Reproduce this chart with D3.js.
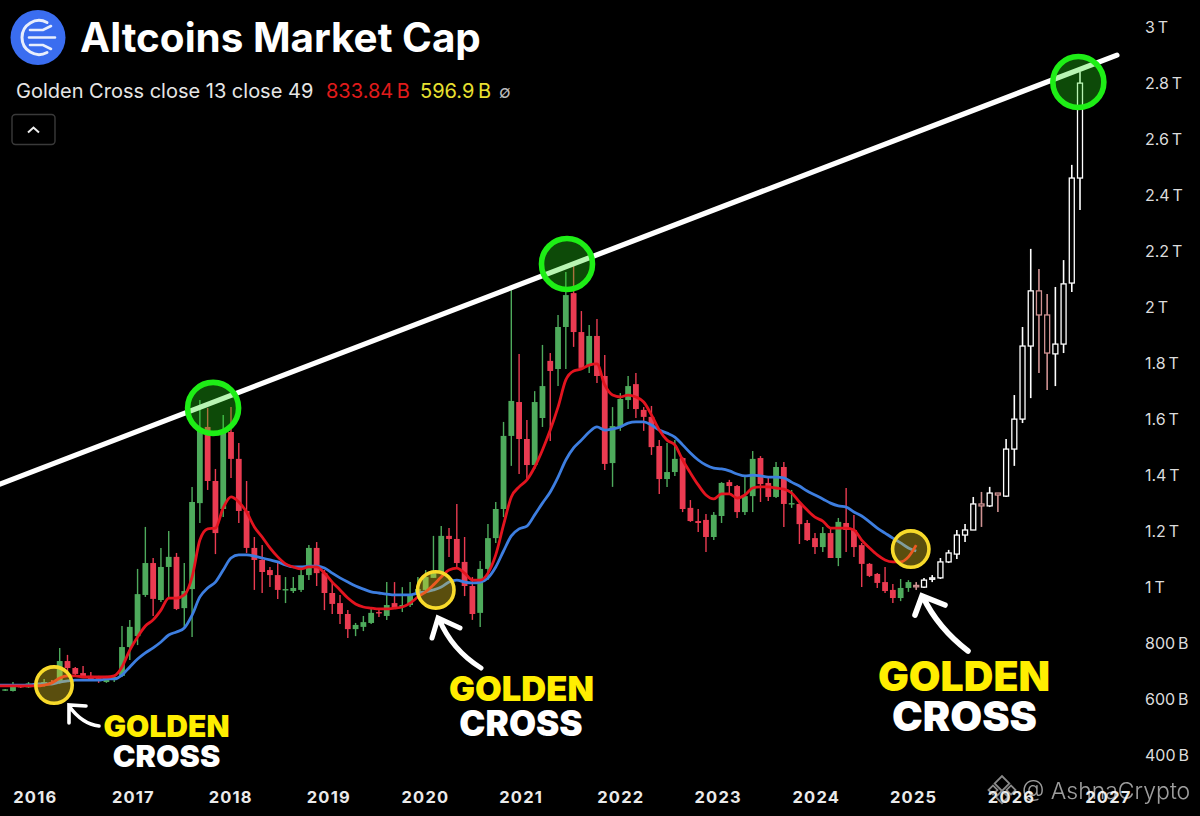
<!DOCTYPE html>
<html><head><meta charset="utf-8">
<script src="https://cdn.jsdelivr.net/npm/d3@7/dist/d3.min.js"></script>
<style>
html,body{margin:0;padding:0;background:#000;overflow:hidden}
svg{display:block}
text{font-family:Inter,"Open Sans",sans-serif}
</style></head><body>
<svg id="c" width="1200" height="816"></svg>
<script>
// Values in billions of USD, one candle per period
const candleOpen=[628,625,643,638,646,643,657,654,732,707,
689,679,671,657,664,679,782,821,968,1082,
950,1068,1104,921,989,1296,1568,1375,1275,1550,
1454,1268,1136,1093,1057,1039,986,982,986,1039,
1136,1046,975,939,900,846,854,868,907,893,
939,925,932,968,986,1029,1050,1179,1168,1086,
1000,904,1061,1171,1275,1536,1657,1525,1432,1600,
1804,1775,1925,2046,1907,1786,1893,1750,1439,1568,
1664,1721,1629,1604,1500,1382,1407,1457,1279,1232,
1236,1175,1250,1371,1357,1264,1321,1457,1368,1318,
1425,1293,1293,1225,1171,1139,1189,1100,1225,1200,
1146,1079,1043,1014,986,957,993,1002,996,1025,
1029,1086,1114,1182,1200,1293,1286,1332,1321,1489,
1596,1857,2054,1968,1829,1864,2082,2457];
const candleHigh=[632,657,646,657,648,668,664,779,754,711,
714,693,679,679,682,857,879,1061,1211,1100,
1136,1196,1118,1082,1354,1664,1636,1418,1611,1639,
1511,1375,1175,1146,1068,1082,1032,1032,1057,1146,
1157,1057,1011,968,914,868,893,921,921,1014,
1014,996,1014,1032,1057,1179,1214,1207,1293,1175,
1032,1089,1221,1300,1586,2057,1829,1593,1696,1861,
1832,1968,2121,2157,1982,1932,1954,1825,1639,1689,
1750,1761,1639,1643,1521,1511,1521,1461,1307,1275,
1257,1264,1371,1379,1361,1389,1482,1464,1389,1443,
1443,1343,1300,1236,1189,1211,1207,1243,1350,1254,
1154,1082,1046,1068,1007,1025,1021,1014,1029,1039,
1100,1129,1200,1221,1318,1336,1354,1332,1525,1682,
1925,2204,2132,2043,2068,2164,2504,2836];
const candleLow=[625,623,636,636,639,641,647,652,689,675,
671,664,654,654,657,675,736,789,961,893,
943,961,914,850,818,1225,1343,1114,1246,1386,
1225,1118,986,975,996,954,939,975,979,1021,
1000,914,900,864,814,821,839,864,889,879,
921,907,925,961,975,1029,1046,1104,1068,964,
879,854,1021,1154,1246,1429,1400,1379,1418,1568,
1518,1714,1775,1854,1779,1761,1725,1414,1354,1554,
1632,1600,1554,1468,1329,1354,1393,1264,1229,1193,
1121,1164,1225,1332,1243,1254,1264,1300,1304,1314,
1211,1279,1150,1161,1114,1121,1100,1071,1121,1104,
996,1032,993,975,939,946,979,986,993,1014,
1025,1082,1096,1157,1200,1211,1282,1264,1318,1429,
1582,1671,1761,1700,1714,1832,2050,2343];
const candleClose=[631,643,638,652,641,657,650,732,707,686,
675,668,661,671,675,782,854,971,1082,954,
1068,1104,918,982,1300,1557,1375,1189,1550,1454,
1268,1136,1093,1050,1039,986,989,993,1039,1136,
1046,975,936,900,846,861,871,904,904,932,
925,932,971,989,1032,1046,1179,1168,1082,1000,
900,1061,1171,1275,1536,1661,1525,1432,1657,1714,
1768,1925,2039,1907,1779,1893,1750,1436,1571,1668,
1714,1632,1604,1496,1382,1407,1454,1275,1232,1225,
1175,1254,1368,1357,1264,1321,1454,1364,1318,1425,
1293,1296,1221,1164,1139,1189,1100,1229,1200,1139,
1079,1036,1011,982,957,993,1014,998,1021,1029,
1086,1118,1182,1200,1293,1286,1332,1325,1489,1596,
1857,2054,1968,1832,1864,2079,2457,2796];
const projectionStart=117;
const ma13=[643,643,643,643,643,646,654,671,679,679,
675,675,675,675,679,711,771,818,857,879,
914,957,957,968,1032,1164,1204,1207,1279,1318,
1300,1264,1211,1175,1136,1104,1079,1068,1061,1068,
1068,1046,1014,986,957,936,925,921,918,918,
921,925,939,961,979,1004,1032,1057,1064,1046,
1021,1021,1046,1111,1218,1318,1354,1379,1425,1486,
1557,1639,1736,1768,1775,1789,1793,1718,1682,1675,
1682,1675,1657,1611,1557,1521,1504,1450,1404,1361,
1325,1311,1329,1329,1314,1325,1350,1354,1354,1350,
1346,1332,1300,1271,1246,1232,1207,1207,1207,1200,
1164,1136,1111,1093,1086,1086,1104,1146];
const ma49=[646,646,646,646,650,650,650,657,661,664,
664,664,664,668,668,682,711,739,761,779,
800,825,836,850,896,961,993,1014,1057,1100,
1111,1111,1107,1100,1093,1086,1075,1068,1068,1071,
1071,1064,1046,1029,1014,1000,989,979,975,971,
968,968,968,975,979,986,996,1014,1021,1014,
1011,1014,1029,1068,1125,1179,1204,1214,1254,1296,
1336,1389,1450,1493,1521,1550,1568,1557,1561,1568,
1582,1586,1586,1575,1557,1546,1532,1504,1475,1450,
1432,1421,1418,1411,1400,1393,1396,1393,1389,1389,
1386,1371,1357,1339,1325,1311,1296,1286,1282,1264,
1250,1229,1207,1189,1171,1154,1136,1125];
const yTickValues=[400,600,800,1000,1200,1400,1600,1800,2000,2200,2400,2600,2800,3000];
const yTickLabels=["400\u2009B","600\u2009B","800\u2009B","1\u2009T","1.2\u2009T","1.4\u2009T","1.6\u2009T","1.8\u2009T","2\u2009T","2.2\u2009T","2.4\u2009T","2.6\u2009T","2.8\u2009T","3\u2009T"];
const xTickIndex=[3.8,16.4,28.9,41.5,53.9,66.2,79,91.5,104.1,116.6,128.6,140.4];
const xTickLabels=["2016","2017","2018","2019","2020","2021","2022","2023","2024","2025","2026","2027"];
const trendIndex=[-0.67,141.5], trendValue=[1364,2896];
const peakIndex=[26.7,72.15,136.8], peakValue=[1636,2150,2800];
const crossIndex=[6.27,55.3,116.3], crossValue=[646,986,1132];

const svg=d3.select("#c");
const x=d3.scaleLinear().domain([0,118,137]).range([5.2,924,1080]);
const y=d3.scaleLinear().domain([1000,3000]).range([586,26]);
const idx=d3.range(candleOpen.length);
const GREEN="#4eaa5c",RED="#ea3b51",PINK="#cf9292";
const chart=svg.append("g").style("filter","blur(0.35px)");
const isUp=i=>candleClose[i]>=candleOpen[i];
const col=i=>i>=projectionStart?(isUp(i)?"#ffffff":PINK):(isUp(i)?GREEN:RED);

chart.append("g").selectAll("line").data(idx).join("line")
 .attr("x1",x).attr("x2",x).attr("y1",i=>y(candleHigh[i])).attr("y2",i=>y(candleLow[i]))
 .attr("stroke",col).attr("stroke-width",i=>i>=projectionStart?1.6:1.4);
chart.append("g").selectAll("rect").data(idx).join("rect")
 .attr("x",i=>x(i)-(i>=projectionStart?2.5:2.9))
 .attr("width",i=>i>=projectionStart?5:5.8)
 .attr("y",i=>y(Math.max(candleOpen[i],candleClose[i])))
 .attr("height",i=>Math.max(1.4,Math.abs(y(candleOpen[i])-y(candleClose[i]))))
 .attr("fill",i=>i>=projectionStart?"#000":col(i))
 .attr("stroke",i=>i>=projectionStart?col(i):"none").attr("stroke-width",1.3);

const line=d3.line().x(d=>x(d[0])).y(d=>y(d[1])).curve(d3.curveMonotoneX);
const withLead=a=>[[-0.67,a[0]]].concat(a.map((v,i)=>[i,v]));
chart.append("path").datum(withLead(ma49)).attr("d",line).attr("fill","none").attr("stroke","#3d7ee0").attr("stroke-width",2.8);
chart.append("path").datum(withLead(ma13)).attr("d",line).attr("fill","none").attr("stroke","#e3141f").attr("stroke-width",2.8);

chart.append("line").attr("x1",x(trendIndex[0])).attr("x2",x(trendIndex[1]))
 .attr("y1",y(trendValue[0])).attr("y2",y(trendValue[1]))
 .attr("stroke","#fff").attr("stroke-width",5.2).attr("stroke-linecap","round");

chart.append("g").selectAll("circle").data(peakIndex).join("circle")
 .attr("cx",d=>x(d)).attr("cy",(d,i)=>y(peakValue[i])).attr("r",25.5)
 .attr("fill","rgba(40,224,25,.33)").attr("stroke","#1eee16").attr("stroke-width",5.6);
chart.append("g").selectAll("circle").data(crossIndex).join("circle")
 .attr("cx",d=>x(d)).attr("cy",(d,i)=>y(crossValue[i])).attr("r",18.2)
 .attr("fill","rgba(250,215,40,.36)").attr("stroke","#f8da2a").attr("stroke-width",3.6);

// hand-drawn arrows
const arrows=[
 {d:"M99,726 Q82,724 69,706 M86,706 L69,705 L69,723",w:3.6},
 {d:"M481,668 Q452,650 439,619 M460,628 L438,618 L432,638",w:5},
 {d:"M968,651 Q938,628 923,597 M945,605 L922,596 L915,615",w:5.6}];
chart.append("g").selectAll("path").data(arrows).join("path").attr("d",d=>d.d)
 .attr("fill","none").attr("stroke","#fff").attr("stroke-width",d=>d.w)
 .attr("stroke-linecap","round").attr("stroke-linejoin","miter");

// callout words
const callouts=[
 {t:"GOLDEN",cx:166.5,b:737,s:30,f:"#ffee00"},{t:"CROSS",cx:166.5,b:767,s:30.5,f:"#fff"},
 {t:"GOLDEN",cx:521.5,b:701,s:34.5,f:"#ffee00"},{t:"CROSS",cx:521,b:736,s:35,f:"#fff"},
 {t:"GOLDEN",cx:964,b:691,s:41,f:"#ffee00"},{t:"CROSS",cx:964.5,b:731,s:41.2,f:"#fff"}];
svg.append("g").selectAll("text").data(callouts).join("text").text(d=>d.t)
 .attr("x",d=>d.cx).attr("y",d=>d.b).attr("text-anchor","middle")
 .attr("font-size",d=>d.s).attr("font-weight",900).attr("fill",d=>d.f);

// axes
const ya=d3.axisRight(y).tickValues(yTickValues).tickFormat((d,i)=>yTickLabels[i]).tickSize(0).tickPadding(0);
const yg=svg.append("g").attr("transform","translate(1145,1.5)").call(ya);
yg.select(".domain").remove();
yg.selectAll("text").attr("font-size",16).attr("fill","#dcdcdc").attr("font-family","Inter,sans-serif");
const xa=d3.axisBottom(x).tickValues(xTickIndex).tickFormat((d,i)=>xTickLabels[i]).tickSize(0).tickPadding(0);
const xg=svg.append("g").attr("transform","translate(0,791)").call(xa);
xg.select(".domain").remove();
xg.selectAll("text").attr("font-size",16.5).attr("font-weight",700).attr("letter-spacing",1.2).attr("fill","#eaeaea").attr("font-family","Inter,sans-serif");

// header
const h=svg.append("g");
h.append("circle").attr("cx",38).attr("cy",37.5).attr("r",27.5).attr("fill","#3a6df0");
h.append("path").attr("d","M47,22.5 A17,17 0 1 0 47,52.5").attr("fill","none").attr("stroke","#e8eefc").attr("stroke-width",3).attr("stroke-linecap","round");
h.append("path").attr("d","M30,30 H43 L51,26 M29,37.5 H55 M30,45 H43 L51,49").attr("fill","none").attr("stroke","#e8eefc").attr("stroke-width",2.6).attr("stroke-linecap","round");
h.append("text").text("Altcoins Market Cap").attr("x",80).attr("y",52).attr("font-size",40.4).attr("font-weight",700).attr("fill","#fff");
h.append("text").text("Golden Cross close 13 close 49").attr("x",16).attr("y",97.5).attr("font-size",20).attr("fill","#e6e6e6");
h.append("text").text("833.84\u2009B").attr("x",326).attr("y",97.5).attr("font-size",20).attr("fill","#e01b1b");
h.append("text").text("596.9\u2009B").attr("x",420).attr("y",97.5).attr("font-size",20).attr("fill","#e8e030");
h.append("text").text("\u2205").attr("x",499).attr("y",97.5).attr("font-size",17).attr("fill","#bbb");
h.append("rect").attr("x",12).attr("y",114.5).attr("width",43).attr("height",30).attr("rx",3.5).attr("fill","none").attr("stroke","#3a3a3a").attr("stroke-width",1.4);
h.append("path").attr("d","M28,132.5 L33.5,127.5 L39,132.5").attr("fill","none").attr("stroke","#eee").attr("stroke-width",2);

// watermark
const w=svg.append("g").attr("opacity",.62);
const dia=[[1002,783.5,5.2],[993,790,3.2],[1011,790,3.2],[1002,797,4.4]];
w.selectAll("rect").data(dia).join("rect").attr("x",d=>d[0]-d[2]).attr("y",d=>d[1]-d[2])
 .attr("width",d=>d[2]*2).attr("height",d=>d[2]*2).attr("fill","none").attr("stroke","#ddd").attr("stroke-width",1.8)
 .attr("transform",d=>`rotate(45 ${d[0]} ${d[1]})`);
w.append("text").text("@ AshnaCrypto").attr("x",1022).attr("y",799).attr("font-size",23).attr("font-weight",300).attr("fill","#fff");
</script></body></html>
